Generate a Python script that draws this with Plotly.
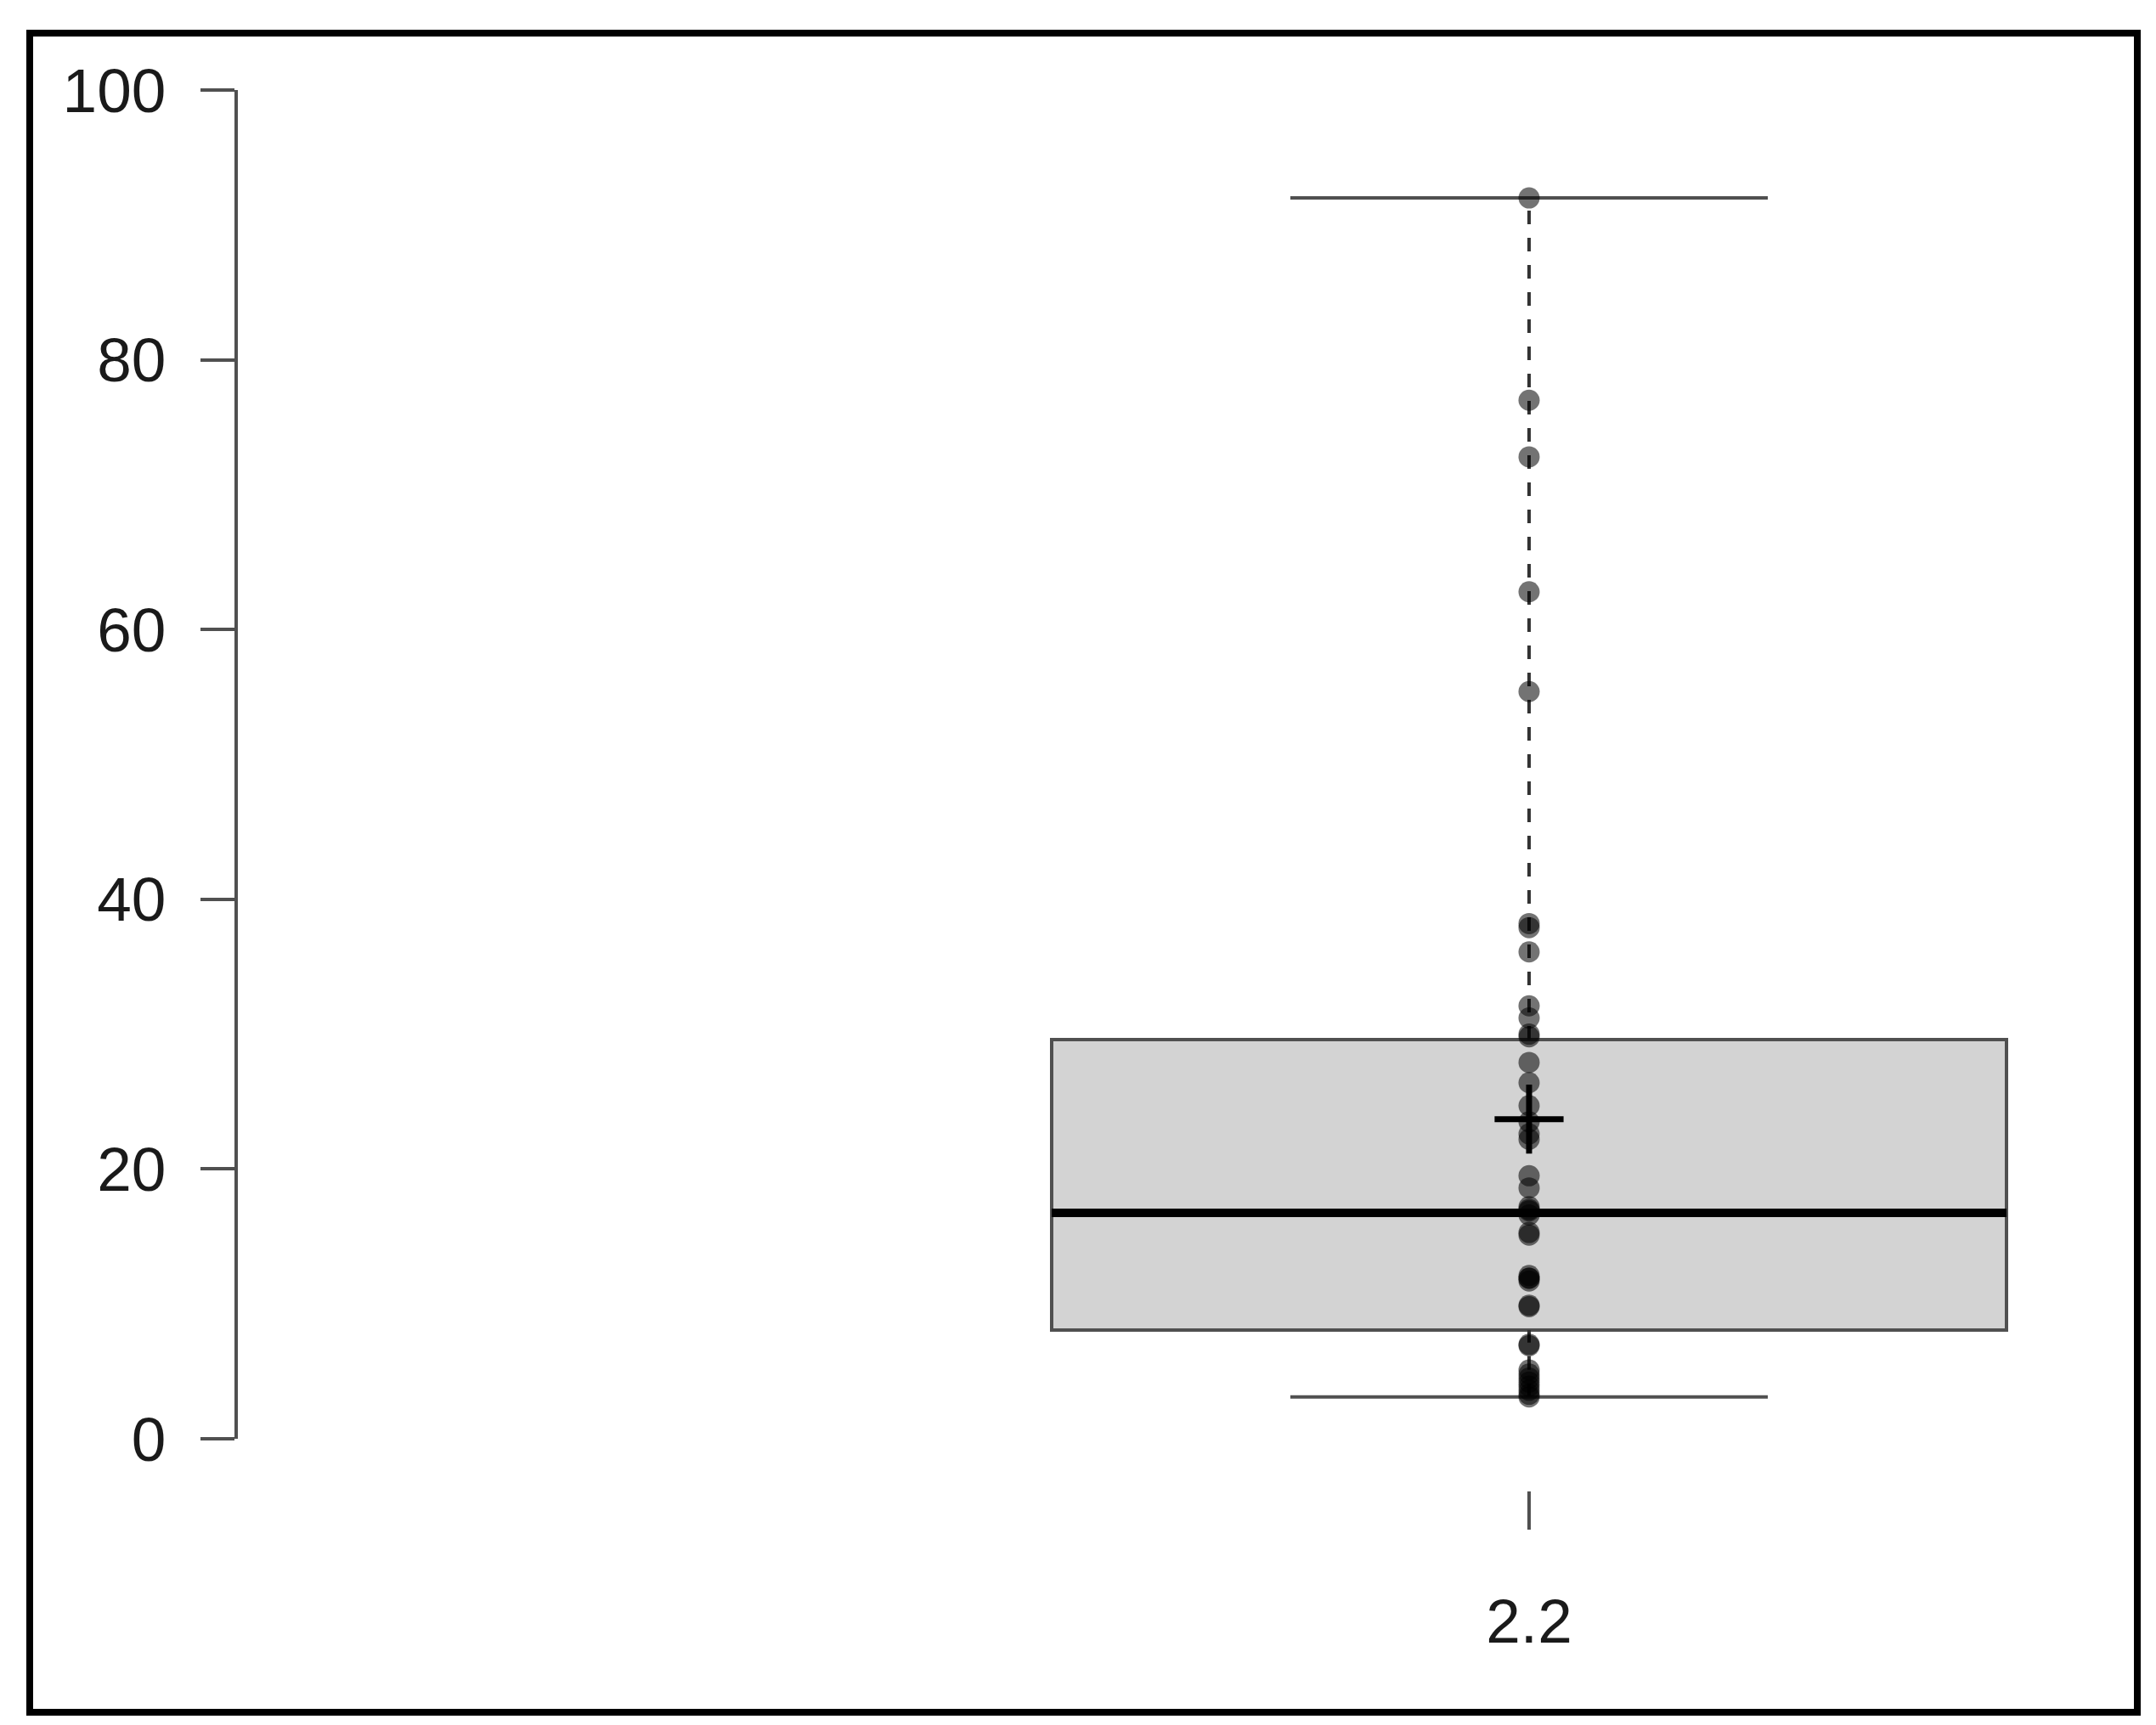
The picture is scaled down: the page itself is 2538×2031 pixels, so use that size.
import plotly.graph_objects as go

# ---- data ----
categories = ["2.2"]
cat_pos = [1]
values = [3.1, 3.3, 3.6, 3.9, 4.2, 4.5, 4.8, 5.1, 6.9, 7.0,
          9.8, 9.9, 11.7, 11.9, 11.9, 12.1, 15.1, 15.3, 16.6, 16.9,
          17.0, 17.2, 18.6, 19.5, 22.2, 22.6, 23.5, 24.7, 26.4, 27.9,
          29.8, 30.0, 31.2, 32.1, 36.1, 37.9, 38.2, 55.4, 62.8, 72.8,
          77.0, 92.0]
q1 = [8.06]
median = [16.75]
q3 = [29.6]
lower_whisker = [3.1]
upper_whisker = [92.0]
mean = [23.7]
y_ticks = [0, 20, 40, 60, 80, 100]

# ---- style constants ----
W, H = 2538, 2031
BOX_HALF = 0.4
CAP_HALF = 0.2
PX_PER_UNIT = 1405.0
CENTER_PX = 1792
FONT = "Liberation Sans, Arial, sans-serif"

fig = go.Figure()

c = cat_pos[0]
# box body
fig.add_trace(go.Box(
    x=cat_pos, q1=q1, median=median, q3=q3,
    lowerfence=q1, upperfence=q3,
    width=2 * BOX_HALF, whiskerwidth=0,
    fillcolor="#d3d3d3", line=dict(color="#505050", width=4),
    boxpoints=False, showlegend=False, hoverinfo="skip",
))
# dashed whiskers
fig.add_trace(go.Scatter(x=[c, c], y=[q3[0], upper_whisker[0]], mode="lines",
                         line=dict(color="#333333", width=4, dash="16px,16px"),
                         showlegend=False, hoverinfo="skip"))
fig.add_trace(go.Scatter(x=[c, c], y=[lower_whisker[0], q1[0]], mode="lines",
                         line=dict(color="#333333", width=4, dash="16px,16px"),
                         showlegend=False, hoverinfo="skip"))
# whisker caps
for v in (upper_whisker[0], lower_whisker[0]):
    fig.add_trace(go.Scatter(x=[c - CAP_HALF, c + CAP_HALF], y=[v, v], mode="lines",
                             line=dict(color="#505050", width=4),
                             showlegend=False, hoverinfo="skip"))
# thick median
fig.add_trace(go.Scatter(x=[c - BOX_HALF, c + BOX_HALF], y=[median[0], median[0]],
                         mode="lines", line=dict(color="black", width=10),
                         showlegend=False, hoverinfo="skip"))
# points
fig.add_trace(go.Scatter(x=[c] * len(values), y=values, mode="markers",
                         marker=dict(size=25, color="rgba(0,0,0,0.55)",
                                     line=dict(width=0)),
                         showlegend=False, hoverinfo="skip", cliponaxis=False))
# mean cross
fig.add_trace(go.Scatter(x=cat_pos, y=mean, mode="markers",
                         marker=dict(symbol="cross-thin", size=58,
                                     line=dict(color="black", width=7)),
                         showlegend=False, hoverinfo="skip", cliponaxis=False))

L, R = 272, 2480
T, B_inner = 98, 1747
plot_bottom = 1686
inner_h = B_inner - T
fig.update_layout(
    width=W, height=H,
    margin=dict(l=L, r=W - R, t=T, b=H - B_inner, pad=0),
    paper_bgcolor="white", plot_bgcolor="white",
    font=dict(family=FONT, size=73, color="#1a1a1a"),
    xaxis=dict(
        range=[1 - (CENTER_PX - L) / PX_PER_UNIT, 1 + (R - CENTER_PX) / PX_PER_UNIT],
        tickmode="array", tickvals=cat_pos, ticktext=categories,
        ticks="outside", ticklen=45, tickwidth=4, tickcolor="#505050",
        showline=False, showgrid=False, zeroline=False,
        anchor="free", position=0, ticklabelstandoff=45,
        tickfont=dict(size=73),
    ),
    yaxis=dict(
        range=[0, 100], domain=[(B_inner - plot_bottom) / inner_h, 1],
        tickmode="array", tickvals=y_ticks,
        ticks="outside", ticklen=40, tickwidth=4, tickcolor="#505050",
        showline=True, linecolor="#505050", linewidth=4,
        showgrid=False, zeroline=False, ticklabelstandoff=26,
        tickfont=dict(size=73),
    ),
    shapes=[dict(
        type="rect", xref="paper", yref="paper",
        x0=(27 - L) / (R - L), x1=(2508 - L) / (R - L),
        y0=(B_inner - 2008) / inner_h, y1=(B_inner - 31) / inner_h,
        line=dict(color="black", width=8), fillcolor="rgba(0,0,0,0)",
        layer="above",
    )],
)

fig.write_html("out.html")
